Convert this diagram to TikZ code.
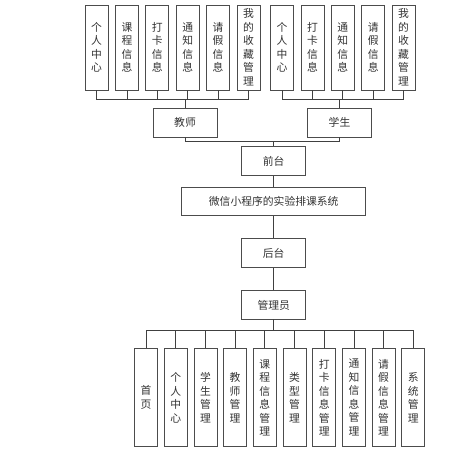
\documentclass[tikz,border=0pt]{standalone}
\usepackage{fontspec}
\setmainfont{Noto Sans CJK SC}

\tikzset{
  box/.style={draw=black!70, line width=0.8pt, fill=white, text=black!80,
    font=\fontsize{10.8}{13.5}\selectfont},
  vbox/.style={box, minimum width=23pt, inner sep=0pt, align=center},
  hbox/.style={box, minimum width=64pt, minimum height=29pt, inner sep=0pt},
  link/.style={draw=black!75, line width=0.8pt}
}

\begin{document}
\begin{tikzpicture}[x=1pt, y=-1pt]
    \useasboundingbox (0,0) rectangle (474,449);
    % teacher side
    \foreach \txt [count=\i] in {{个\\人\\中\\心}, {课\\程\\信\\息}, {打\\卡\\信\\息},
        {通\\知\\信\\息}, {请\\假\\信\\息}, {我\\的\\收\\藏\\管\\理}}
      \node[vbox, minimum height=85pt] (t\i) at ({96.5+30.4*(\i-1)}, 47.5) {\txt};
    % student side
    \foreach \txt [count=\i] in {{个\\人\\中\\心}, {打\\卡\\信\\息}, {通\\知\\信\\息},
        {请\\假\\信\\息}, {我\\的\\收\\藏\\管\\理}}
      \node[vbox, minimum height=85pt] (s\i) at ({282+30.4*(\i-1)}, 47.5) {\txt};
    \node[hbox] (teacher) at (185, 122.5) {教师};
    \node[hbox] (student) at (339.5, 122.5) {学生};
    \node[hbox] (front) at (273.7, 161) {前台};
    \node[hbox, minimum width=184pt, minimum height=28.5pt] (sys) at (273.7, 201.5) {微信小程序的实验排课系统};
    \node[hbox] (back) at (273.7, 253) {后台};
    \node[hbox] (admin) at (273.7, 305) {管理员};
    % admin side
    \foreach \txt [count=\i] in {{首\\页}, {个\\人\\中\\心}, {学\\生\\管\\理}, {教\\师\\管\\理},
        {课\\程\\信\\息\\管\\理}, {类\\型\\管\\理}, {打\\卡\\信\\息\\管\\理},
        {通\\知\\信\\息\\管\\理}, {请\\假\\信\\息\\管\\理}, {系\\统\\管\\理}}
      \node[vbox, minimum height=98.5pt] (a\i) at ({146+29.7*(\i-1)}, 397.6) {\txt};

    \foreach \i in {1,...,6}
      \draw[link] (teacher.north) -- ++(0,-8) -| (t\i.south);
    \foreach \i in {1,...,5}
      \draw[link] (student.north) -- ++(0,-8) -| (s\i.south);
    \path (front.north) ++(0,-5) coordinate (fork);
    \draw[link] (teacher.south) |- (fork) -| (student.south);
    \draw[link] (fork) -- (front.north);
    \draw[link] (front) -- (sys);
    \draw[link] (sys) -- (back);
    \draw[link] (back) -- (admin);
    \foreach \i in {1,...,10}
      \draw[link] (admin.south) -- ++(0,10) -| (a\i.north);
\end{tikzpicture}
\end{document}
